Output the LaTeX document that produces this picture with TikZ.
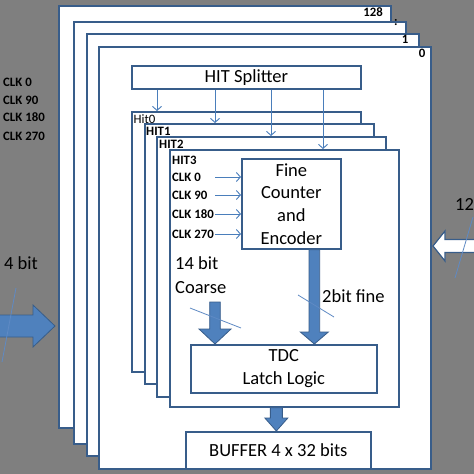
\documentclass[tikz,border=0pt]{standalone}
\usepackage{fontspec}
\setmainfont{Carlito}
\usetikzlibrary{calc,arrows.meta}
\definecolor{bg}{RGB}{127,127,127}
\definecolor{fb}{RGB}{56,93,138}
\definecolor{af}{RGB}{79,129,189}
\definecolor{tl}{RGB}{74,126,187}
\definecolor{sl}{RGB}{95,138,196}
\newcommand\bigf{\fontsize{18.5}{22.7}\selectfont}
\newcommand\smb{\fontsize{12.8}{15}\selectfont\bfseries}
\newcommand\smr{\fontsize{12.8}{15}\selectfont}
\newcommand\vfat[6][fatarrow]{\path[#1] let \p1=(#2), \p2=(#3) in
 ({\x1-#4},{\y1}) -- ({\x1-#4},{\y2+#6}) -- ({\x1-#5},{\y2+#6}) -- ({\x1},{\y2}) -- ({\x1+#5},{\y2+#6}) -- ({\x1+#4},{\y2+#6}) -- ({\x1+#4},{\y1}) -- cycle;}
\newcommand\hfat[6][fatarrow]{\path[#1] let \p1=(#2), \p2=(#3) in
 ({\x1},{\y1-#4}) -- ({\x2-#6},{\y1-#4}) -- ({\x2-#6},{\y1-#5}) -- ({\x2},{\y1}) -- ({\x2-#6},{\y1+#5}) -- ({\x2-#6},{\y1+#4}) -- ({\x1},{\y1+#4}) -- cycle;}
\begin{document}
\begin{tikzpicture}[x=1pt,y=-1pt,
 frame/.style={draw=fb,fill=white,line width=1.7pt,inner sep=0pt,anchor=north west,minimum width=332pt,minimum height=422pt},
 hitframe/.style={frame,minimum width=229pt,minimum height=259pt},
 box/.style={draw=fb,fill=white,line width=1.7pt,inner sep=0pt,anchor=north west,font=\bigf,align=center},
 fatarrow/.style={fill=af,draw=fb,line width=0.8pt},
 hollowarrow/.style={fill=white,draw=fb,line width=1.2pt},
 thinarrow/.style={draw=tl,line width=0.9pt,-{Straight Barb[length=4pt,width=9pt]}},
 slash/.style={draw=sl,line width=0.8pt},
 lbl/.style={inner sep=0pt,anchor=west}]
\fill[bg] (0,0) rectangle (474,474);
\useasboundingbox (0,0) rectangle (474,474);
% outside labels
\node[lbl,font=\smb] (oc0) at (3,82) {CLK 0};
\node[lbl,font=\smb] (oc90) at (3,100) {CLK 90};
\node[lbl,font=\smb] (oc180) at (3,117) {CLK 180};
\node[lbl,font=\smb] (oc270) at (3,136) {CLK 270};
\node[inner sep=0pt,anchor=east,font=\bigf] (lbit) at (38,263) {4 bit};
\node[inner sep=0pt,anchor=west,font=\bigf] (rbit) at (455,204) {12};
% frames
\node[frame] (f128) at (58,5) {};
\node[frame] (fdots) at (73,21) {};
\node[frame] (f1) at (86,33) {};
\node[frame] (f0) at (98,46) {};
\node[inner sep=0pt,anchor=east,font=\smb] (n128) at (383,12) {128};
\node[inner sep=0pt,font=\smb] (ndots) at (396,23) {:};
\node[inner sep=0pt,font=\smb] (n1) at (405,39) {1};
\node[inner sep=0pt,font=\smb] (n0) at (422,53) {0};
% splitter
\node[box,minimum width=229pt,minimum height=23pt] (split) at (131,65) {HIT Splitter};
% hit frames
\node[hitframe,minimum height=260pt] (hit0) at (131,111) {};
\node[hitframe,minimum height=260pt] (hit1) at (144,123) {};
\node[hitframe,minimum height=260pt] (hit2) at (156,136) {};
\node[hitframe,minimum height=257pt] (hit3) at (169,149) {};
\node[lbl,font=\smr] (l0) at (133.5,119) {Hit0};
\node[lbl,font=\smb] (l1) at (146,131) {HIT1};
\node[lbl,font=\smb] (l2) at (159,144.5) {HIT2};
\node[lbl,font=\smb] (l3) at (172,160) {HIT3};
% inner blocks
\node[box,minimum width=99pt,minimum height=90pt] (fine) at (241,158) {Fine\\Counter\\and\\Encoder};
\node[box,minimum width=186pt,minimum height=48pt] (tdc) at (190,344) {TDC\\Latch Logic};
\node[box,minimum width=185pt,minimum height=37pt] (buf) at (185,431) {BUFFER 4 x 32 bits};
% clk labels
\node[lbl,font=\smb] (c0) at (172,177) {CLK 0};
\node[lbl,font=\smb] (c90) at (172,195) {CLK 90};
\node[lbl,font=\smb] (c180) at (172,214) {CLK 180};
\node[lbl,font=\smb] (c270) at (172,234) {CLK 270};
\coordinate (astart) at (215,0);
\foreach \c in {c0,c90,c180,c270}
  \draw[thinarrow] (\c.east -| astart) -- (\c.east -| fine.west);
% splitter arrows
\coordinate (s1) at ($(split.south west)+(26,0)$);
\coordinate (s2) at ($(split.south west)+(84,0)$);
\coordinate (s3) at ($(split.south west)+(140,0)$);
\coordinate (s4) at ($(split.south west)+(192,0)$);
\draw[thinarrow] (s1) -- (s1 |- hit0.north);
\draw[thinarrow] (s2) -- (s2 |- hit1.north);
\draw[thinarrow] (s3) -- (s3 |- hit2.north);
\draw[thinarrow] (s4) -- (s4 |- hit3.north);
% text labels
\node[inner sep=0pt,anchor=west,align=left,font=\fontsize{18.5}{24}\selectfont] (coarse) at (175,275) {14 bit\\Coarse};
\node[inner sep=0pt,anchor=west,font=\bigf] (finebits) at (322,296) {2bit fine};
% fat arrows
\coordinate (cstart) at (215,302);
\vfat{cstart}{cstart |- tdc.north}{5.3pt}{16pt}{15pt}
\coordinate (fstart) at ($(fine.south)+(23,0)$);
\vfat{fstart}{fstart |- tdc.north}{5.3pt}{14pt}{12pt}
\coordinate (bstart) at ($(buf.north |- hit3.south)+(-2,0)$);
\vfat{bstart}{bstart |- buf.north}{6pt}{11.5pt}{13pt}
\coordinate (lin) at (-5,326);
\coordinate (ltip) at (55,326);
\hfat{lin}{ltip}{11pt}{21pt}{22pt}
\coordinate (rin) at (480,246);
\coordinate (rtip) at (433,246);
\hfat[hollowarrow]{rin}{rtip}{6.5pt}{15pt}{-12pt}
% slash marks
\draw[slash] (190,308) -- (241,328);
\draw[slash] (298,295) -- (334,317);
\draw[slash] (16,288) -- (2,362);
\draw[slash] (473,217) -- (455,278);
\end{tikzpicture}
\end{document}
